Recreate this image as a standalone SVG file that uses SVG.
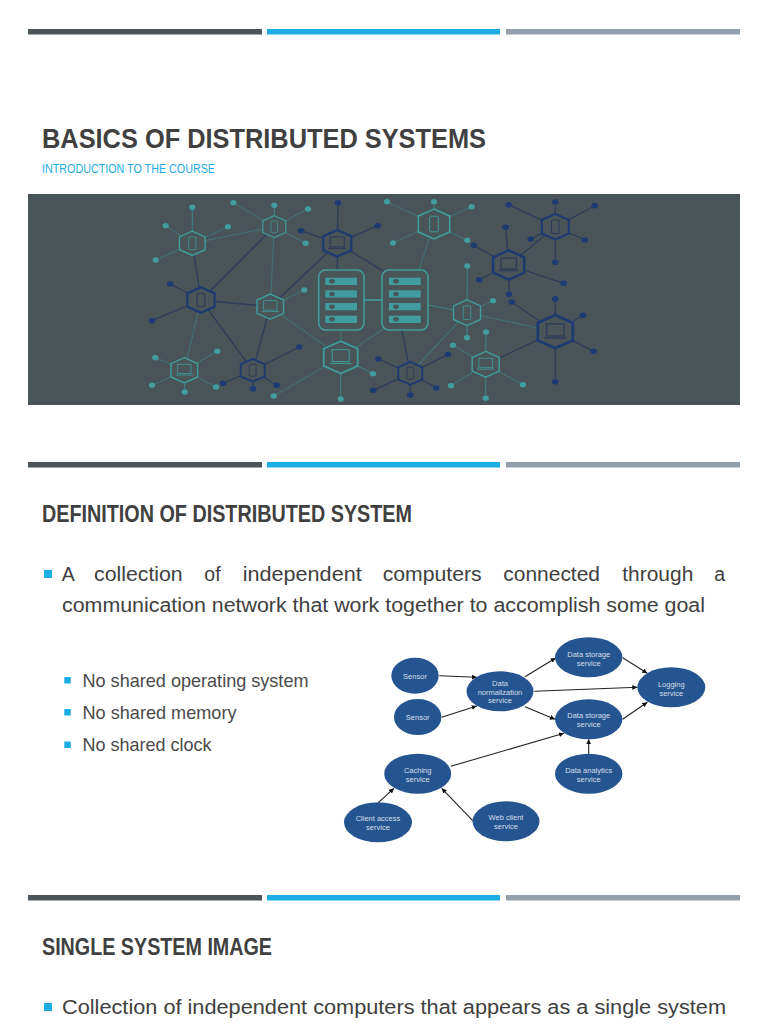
<svg xmlns="http://www.w3.org/2000/svg" width="768" height="1024" viewBox="0 0 768 1024">
<style>
text{font-family:"Liberation Sans",sans-serif}
.dk{fill:#4a5459}.bl{fill:#1cade4}.gy{fill:#94a0ab}
.h1{font-weight:700;fill:#404040}
.body{font-size:19.5px;fill:#404040}
.sub{font-size:17.8px;fill:#4a4a4a}
.bu{fill:#1cade4}
.n{stroke:#2b3c5b;stroke-width:1.3;fill:none}
.t{stroke:#3c8387;stroke-width:1.2;stroke-dasharray:1.3 1;fill:none}
.ts{stroke:#3c8387;stroke-width:1;fill:none}
.ln{fill:#1f3a70;rx:3.3px;ry:2.8px}
.lt{fill:#409c9e;rx:3.1px;ry:2.7px}
.hn{fill:#495459;stroke:#1f3a70;stroke-width:1.6}
.ht{fill:#495459;stroke:#409c9e;stroke-width:1.05}
.in{fill:none;stroke:#2b3c5b;stroke-width:.8}
.it{fill:none;stroke:#409c9e;stroke-width:.6}
.srv{fill:#495459;stroke:#409c9e;stroke-width:1.6}
.bar{fill:#409c9e}.dot{fill:#495459}
.e{fill:#255591}
.el{font-size:7.5px;fill:#d5deea;text-anchor:middle}
.a{stroke:#222;stroke-width:1.1;fill:none;marker-end:url(#ah)}
</style>
<defs>
<filter id="soft" filterUnits="userSpaceOnUse" x="28" y="194" width="712" height="211"><feGaussianBlur stdDeviation="0.45"/></filter>
<marker id="ah" markerWidth="6" markerHeight="6" refX="5" refY="2.5" orient="auto" markerUnits="userSpaceOnUse"><path d="M0 0L5 2.5L0 5z" fill="#111"/></marker>
<polygon id="hex" points="0,-9.5 10,-5 10,5 0,9.5 -10,5 -10,-5"/>
<g id="phone"><rect x="-2.8" y="-5" width="5.6" height="10" rx=".8"/></g>
<g id="laptop"><rect x="-5" y="-4.5" width="10" height="7"/><path d="M-6.5 3.6H6.5"/></g>
</defs>
<rect width="768" height="1024" fill="#fff"/>

<g id="rule-1"><rect class="dk" x="28" y="29" width="234" height="5.5"/><rect class="bl" x="267" y="29" width="233" height="5.5"/><rect class="gy" x="506" y="29" width="234" height="5.5"/></g>
<g id="rule-2"><rect class="dk" x="28" y="462" width="234" height="5.5"/><rect class="bl" x="267" y="462" width="233" height="5.5"/><rect class="gy" x="506" y="462" width="234" height="5.5"/></g>
<g id="rule-3"><rect class="dk" x="28" y="895" width="234" height="5.5"/><rect class="bl" x="267" y="895" width="233" height="5.5"/><rect class="gy" x="506" y="895" width="234" height="5.5"/></g>

<text class="h1" x="42" y="148" font-size="28" textLength="444" lengthAdjust="spacingAndGlyphs">BASICS OF DISTRIBUTED SYSTEMS</text>
<text x="42" y="173" font-size="12.5" fill="#1cade4" textLength="173" lengthAdjust="spacingAndGlyphs">INTRODUCTION TO THE COURSE</text>

<rect id="banner" x="28" y="194" width="712" height="211" fill="#495459"/>
<g id="banner-art" filter="url(#soft)">
<g id="banner-connectors">
<line class="n" x1="192.3" y1="243.3" x2="201" y2="300"/><line class="t" x1="192.3" y1="243.3" x2="274.3" y2="226.7"/><line class="n" x1="201" y1="300" x2="274.3" y2="226.7"/><line class="t" x1="274.3" y1="226.7" x2="270.3" y2="306.7"/><line class="n" x1="337.3" y1="243.3" x2="270.3" y2="306.7"/><line class="n" x1="201" y1="300" x2="270.3" y2="306.7"/><line class="n" x1="201" y1="300" x2="252.7" y2="370.3"/><line class="n" x1="270.3" y1="306.7" x2="252.7" y2="370.3"/><line class="t" x1="201" y1="300" x2="184.3" y2="370.3"/><line class="t" x1="270.3" y1="306.7" x2="340.7" y2="357.3"/><line class="n" x1="337.3" y1="243.3" x2="337.3" y2="272"/><line class="n" x1="337.3" y1="243.3" x2="385" y2="272"/><line class="t" x1="340.7" y1="357.3" x2="341" y2="330"/><line class="t" x1="340.7" y1="357.3" x2="385" y2="328"/><line class="t" x1="434" y1="224" x2="419" y2="270"/><line class="ts" x1="428" y1="305" x2="467" y2="312.7"/><line class="ts" x1="467" y1="312.7" x2="410.3" y2="373.3"/><line class="n" x1="402" y1="330" x2="410.3" y2="373.3"/><line class="t" x1="467" y1="312.7" x2="555.3" y2="331.7"/><line class="n" x1="485.7" y1="364.3" x2="555.3" y2="331.7"/><line class="n" x1="508.7" y1="265" x2="555.3" y2="226.7"/><line class="t" x1="434" y1="224" x2="467.3" y2="240.3"/>
<line class="ts" x1="192.3" y1="243.3" x2="192.3" y2="207.3"/><line class="t" x1="192.3" y1="243.3" x2="165.7" y2="225.7"/><line class="t" x1="192.3" y1="243.3" x2="228" y2="226.7"/><line class="t" x1="192.3" y1="243.3" x2="155.7" y2="260"/>
<line class="t" x1="274.3" y1="226.7" x2="233.3" y2="202.7"/><line class="ts" x1="274.3" y1="226.7" x2="274.3" y2="205.3"/><line class="t" x1="274.3" y1="226.7" x2="308" y2="209"/><line class="t" x1="274.3" y1="226.7" x2="305.7" y2="243.3"/>
<line class="t" x1="270.3" y1="306.7" x2="304.3" y2="290"/>
<line class="t" x1="184.3" y1="370.3" x2="155.3" y2="357.7"/><line class="t" x1="184.3" y1="370.3" x2="217.3" y2="351.3"/><line class="t" x1="184.3" y1="370.3" x2="152" y2="385.3"/><line class="ts" x1="184.3" y1="370.3" x2="184.7" y2="392"/><line class="t" x1="184.3" y1="370.3" x2="216" y2="387"/>
<line class="t" x1="340.7" y1="357.3" x2="273.7" y2="396"/><line class="ts" x1="340.7" y1="357.3" x2="340.7" y2="399"/><line class="ts" x1="340.7" y1="357.3" x2="373" y2="373.7"/>
<line class="n" x1="337.3" y1="243.3" x2="338" y2="202.7"/><line class="n" x1="337.3" y1="243.3" x2="301" y2="230.7"/><line class="n" x1="337.3" y1="243.3" x2="377.7" y2="225.7"/>
<line class="n" x1="201" y1="300" x2="170.3" y2="284"/><line class="n" x1="201" y1="300" x2="152" y2="320.7"/>
<line class="n" x1="252.7" y1="370.3" x2="299.3" y2="347"/><line class="n" x1="252.7" y1="370.3" x2="223" y2="383.3"/><line class="n" x1="252.7" y1="370.3" x2="253" y2="388.7"/><line class="n" x1="252.7" y1="370.3" x2="276.7" y2="385.3"/>
<line class="n" x1="410.3" y1="373.3" x2="378.3" y2="359"/><line class="n" x1="410.3" y1="373.3" x2="448" y2="354.3"/><line class="n" x1="410.3" y1="373.3" x2="373.3" y2="390.3"/><line class="n" x1="410.3" y1="373.3" x2="436.3" y2="388"/><line class="n" x1="410.3" y1="373.3" x2="410.3" y2="395"/>
<line class="t" x1="434" y1="224" x2="387" y2="201.7"/><line class="ts" x1="434" y1="224" x2="434" y2="201.7"/><line class="t" x1="434" y1="224" x2="471.7" y2="206.7"/><line class="t" x1="434" y1="224" x2="393" y2="243"/>
<line class="ts" x1="467" y1="312.7" x2="467.3" y2="266"/><line class="t" x1="467" y1="312.7" x2="493" y2="300.7"/><line class="ts" x1="467" y1="312.7" x2="467" y2="337.7"/>
<line class="ts" x1="485.7" y1="364.3" x2="486" y2="332"/><line class="t" x1="485.7" y1="364.3" x2="453" y2="345.3"/><line class="t" x1="485.7" y1="364.3" x2="451" y2="385.7"/><line class="t" x1="485.7" y1="364.3" x2="523" y2="384.7"/><line class="ts" x1="485.7" y1="364.3" x2="485.7" y2="398.3"/>
<line class="n" x1="555.3" y1="226.7" x2="508.7" y2="204.7"/><line class="n" x1="555.3" y1="226.7" x2="555.3" y2="202"/><line class="n" x1="555.3" y1="226.7" x2="594.7" y2="205.7"/><line class="n" x1="555.3" y1="226.7" x2="530.7" y2="239"/><line class="n" x1="555.3" y1="226.7" x2="584.7" y2="240"/><line class="n" x1="555.3" y1="226.7" x2="555.3" y2="262.3"/>
<line class="n" x1="508.7" y1="265" x2="473.7" y2="245.3"/><line class="n" x1="508.7" y1="265" x2="505.7" y2="227.3"/><line class="n" x1="508.7" y1="265" x2="479.3" y2="279.7"/><line class="n" x1="508.7" y1="265" x2="563.7" y2="283.3"/><line class="n" x1="508.7" y1="265" x2="509" y2="294.3"/>
<line class="n" x1="555.3" y1="331.7" x2="511.7" y2="302"/><line class="n" x1="555.3" y1="331.7" x2="555.3" y2="298.7"/><line class="n" x1="555.3" y1="331.7" x2="583" y2="315.3"/><line class="n" x1="555.3" y1="331.7" x2="593.7" y2="351.3"/><line class="n" x1="555.3" y1="331.7" x2="555.3" y2="381.7"/>
</g>
<g id="banner-leaves">
<ellipse class="lt" cx="192.3" cy="207.3"/><ellipse class="lt" cx="165.7" cy="225.7"/><ellipse class="lt" cx="228" cy="226.7"/><ellipse class="lt" cx="155.7" cy="260"/><ellipse class="lt" cx="233.3" cy="202.7"/><ellipse class="lt" cx="274.3" cy="205.3"/><ellipse class="lt" cx="308" cy="209"/><ellipse class="lt" cx="305.7" cy="243.3"/><ellipse class="lt" cx="304.3" cy="290"/><ellipse class="lt" cx="155.3" cy="357.7"/><ellipse class="lt" cx="217.3" cy="351.3"/><ellipse class="lt" cx="152" cy="385.3"/><ellipse class="lt" cx="184.7" cy="392"/><ellipse class="lt" cx="216" cy="387"/><ellipse class="lt" cx="273.7" cy="396"/><ellipse class="lt" cx="340.7" cy="399"/><ellipse class="lt" cx="373" cy="373.7"/><ellipse class="lt" cx="387" cy="201.7"/><ellipse class="lt" cx="434" cy="201.7"/><ellipse class="lt" cx="471.7" cy="206.7"/><ellipse class="lt" cx="393" cy="243"/><ellipse class="lt" cx="467.3" cy="240.3"/><ellipse class="lt" cx="467.3" cy="266"/><ellipse class="lt" cx="493" cy="300.7"/><ellipse class="lt" cx="467" cy="337.7"/><ellipse class="lt" cx="486" cy="332"/><ellipse class="lt" cx="453" cy="345.3"/><ellipse class="lt" cx="451" cy="385.7"/><ellipse class="lt" cx="523" cy="384.7"/><ellipse class="lt" cx="485.7" cy="398.3"/>
<ellipse class="ln" cx="338" cy="202.7"/><ellipse class="ln" cx="301" cy="230.7"/><ellipse class="ln" cx="377.7" cy="225.7"/><ellipse class="ln" cx="170.3" cy="284"/><ellipse class="ln" cx="152" cy="320.7"/><ellipse class="ln" cx="299.3" cy="347"/><ellipse class="ln" cx="223" cy="383.3"/><ellipse class="ln" cx="253" cy="388.7"/><ellipse class="ln" cx="276.7" cy="385.3"/><ellipse class="ln" cx="378.3" cy="359"/><ellipse class="ln" cx="448" cy="354.3"/><ellipse class="ln" cx="373.3" cy="390.3"/><ellipse class="ln" cx="436.3" cy="388"/><ellipse class="ln" cx="410.3" cy="395"/><ellipse class="ln" cx="508.7" cy="204.7"/><ellipse class="ln" cx="555.3" cy="202"/><ellipse class="ln" cx="594.7" cy="205.7"/><ellipse class="ln" cx="530.7" cy="239"/><ellipse class="ln" cx="584.7" cy="240"/><ellipse class="ln" cx="555.3" cy="262.3"/><ellipse class="ln" cx="473.7" cy="245.3"/><ellipse class="ln" cx="505.7" cy="227.3"/><ellipse class="ln" cx="479.3" cy="279.7"/><ellipse class="ln" cx="563.7" cy="283.3"/><ellipse class="ln" cx="509" cy="294.3"/><ellipse class="ln" cx="511.7" cy="302"/><ellipse class="ln" cx="555.3" cy="298.7"/><ellipse class="ln" cx="583" cy="315.3"/><ellipse class="ln" cx="593.7" cy="351.3"/><ellipse class="ln" cx="555.3" cy="381.7"/>
</g>
<g id="hub-t1" transform="translate(192.3 243.3) scale(1.28)"><use href="#hex" class="ht"/><use href="#phone" class="it"/></g>
<g id="hub-t2" transform="translate(274.3 226.7) scale(1.15)"><use href="#hex" class="ht"/><use href="#phone" class="it"/></g>
<g id="hub-t3" transform="translate(270.3 306.7) scale(1.33)"><use href="#hex" class="ht"/><use href="#laptop" class="it"/></g>
<g id="hub-t4" transform="translate(184.3 370.3) scale(1.33)"><use href="#hex" class="ht"/><use href="#laptop" class="it"/></g>
<g id="hub-t5" transform="translate(340.7 357.3) scale(1.7)"><use href="#hex" class="ht"/><use href="#laptop" class="it"/></g>
<g id="hub-t6" transform="translate(434 224) scale(1.57)"><use href="#hex" class="ht"/><use href="#phone" class="it"/></g>
<g id="hub-t7" transform="translate(467 312.7) scale(1.35)"><use href="#hex" class="ht"/><use href="#phone" class="it"/></g>
<g id="hub-t8" transform="translate(485.7 364.3) scale(1.35)"><use href="#hex" class="ht"/><use href="#laptop" class="it"/></g>
<g id="hub-n1" transform="translate(337.3 243.3) scale(1.4)"><use href="#hex" class="hn"/><use href="#laptop" class="in"/></g>
<g id="hub-n2" transform="translate(201 300) scale(1.35)"><use href="#hex" class="hn"/><use href="#phone" class="in"/></g>
<g id="hub-n3" transform="translate(252.7 370.3) scale(1.2)"><use href="#hex" class="hn"/><use href="#phone" class="in"/></g>
<g id="hub-n4" transform="translate(555.3 226.7) scale(1.35)"><use href="#hex" class="hn"/><use href="#phone" class="in"/></g>
<g id="hub-n5" transform="translate(508.7 265) scale(1.55)"><use href="#hex" class="hn"/><use href="#laptop" class="in"/></g>
<g id="hub-n6" transform="translate(555.3 331.7) scale(1.75)"><use href="#hex" class="hn"/><use href="#laptop" class="in"/></g>
<g id="hub-n7" transform="translate(410.3 373.3) scale(1.2)"><use href="#hex" class="hn"/><use href="#phone" class="in"/></g>
<g id="server-link"><line x1="364" y1="300" x2="382" y2="300" stroke="#409c9e" stroke-width="1.6"/></g>
<g id="server-left"><rect class="srv" x="318.7" y="270" width="45.3" height="60" rx="7"/>
<rect class="bar" x="325.3" y="277.7" width="31.7" height="7.3"/><rect class="bar" x="325.3" y="290.3" width="31.7" height="7.3"/><rect class="bar" x="325.3" y="303" width="31.7" height="7.3"/><rect class="bar" x="325.3" y="315.7" width="31.7" height="7.3"/>
<ellipse class="dot" cx="332" cy="281.3" rx="2.8" ry="2.2"/><ellipse class="dot" cx="332" cy="294" rx="2.8" ry="2.2"/><ellipse class="dot" cx="332" cy="306.7" rx="2.8" ry="2.2"/><ellipse class="dot" cx="332" cy="319.3" rx="2.8" ry="2.2"/></g>
<g id="server-right"><rect class="srv" x="382" y="270" width="46" height="60" rx="7"/>
<rect class="bar" x="389" y="277.7" width="31.7" height="7.3"/><rect class="bar" x="389" y="290.3" width="31.7" height="7.3"/><rect class="bar" x="389" y="303" width="31.7" height="7.3"/><rect class="bar" x="389" y="315.7" width="31.7" height="7.3"/>
<ellipse class="dot" cx="396" cy="281.3" rx="2.8" ry="2.2"/><ellipse class="dot" cx="396" cy="294" rx="2.8" ry="2.2"/><ellipse class="dot" cx="396" cy="306.7" rx="2.8" ry="2.2"/><ellipse class="dot" cx="396" cy="319.3" rx="2.8" ry="2.2"/></g>
</g>

<text class="h1" x="42" y="522" font-size="23" textLength="370" lengthAdjust="spacingAndGlyphs">DEFINITION OF DISTRIBUTED SYSTEM</text>
<rect class="bu" x="44" y="570" width="8" height="8"/>
<text class="body" y="581"><tspan x="61.7">A</tspan> <tspan x="94" textLength="88.7" lengthAdjust="spacingAndGlyphs">collection</tspan> <tspan x="204.3">of</tspan> <tspan x="242.7" textLength="119" lengthAdjust="spacingAndGlyphs">independent</tspan> <tspan x="382.7" textLength="99" lengthAdjust="spacingAndGlyphs">computers</tspan> <tspan x="503.3" textLength="96.7" lengthAdjust="spacingAndGlyphs">connected</tspan> <tspan x="622.3" textLength="71" lengthAdjust="spacingAndGlyphs">through</tspan> <tspan x="714.3">a</tspan></text>
<text class="body" x="62" y="612" textLength="643" lengthAdjust="spacingAndGlyphs">communication network that work together to accomplish some goal</text>
<rect class="bu" x="64.3" y="677" width="6.5" height="6.5"/>
<text class="sub" x="82.5" y="687" textLength="226" lengthAdjust="spacingAndGlyphs">No shared operating system</text>
<rect class="bu" x="64.3" y="709" width="6.5" height="6.5"/>
<text class="sub" x="82.5" y="719" textLength="154" lengthAdjust="spacingAndGlyphs">No shared memory</text>
<rect class="bu" x="64.3" y="741.5" width="6.5" height="6.5"/>
<text class="sub" x="82.5" y="751" textLength="129" lengthAdjust="spacingAndGlyphs">No shared clock</text>

<g id="connectors">
<line class="a" x1="439.3" y1="675.7" x2="476.7" y2="677.3"/>
<line class="a" x1="441.7" y1="717.3" x2="476.7" y2="706"/>
<line class="a" x1="525" y1="676.7" x2="555.7" y2="658"/>
<line class="a" x1="534.3" y1="691.3" x2="637.3" y2="687.3"/>
<line class="a" x1="525" y1="706.7" x2="555" y2="719.3"/>
<line class="a" x1="622.7" y1="657.7" x2="647.3" y2="673.3"/>
<line class="a" x1="622.7" y1="719.3" x2="647.3" y2="702.3"/>
<line class="a" x1="450.7" y1="766.3" x2="564" y2="733.3"/>
<line class="a" x1="588.7" y1="754" x2="588.7" y2="739.3"/>
<line class="a" x1="378.3" y1="802.7" x2="394" y2="788.3"/>
<line class="a" x1="472.7" y1="820.7" x2="441.7" y2="788.3"/>
</g>
<g id="sensor-1"><ellipse class="e" cx="415" cy="675.7" rx="23.7" ry="18"/><text class="el" x="415" y="678.5">Sensor</text></g>
<g id="sensor-2"><ellipse class="e" cx="417.7" cy="717" rx="23.7" ry="18"/><text class="el" x="417.7" y="719.8">Sensor</text></g>
<g id="data-normalization"><ellipse class="e" cx="500" cy="691.3" rx="33.5" ry="20"/><text class="el" x="500" y="686">Data</text><text class="el" x="500" y="694.7">normalization</text><text class="el" x="500" y="703">service</text></g>
<g id="storage-1"><ellipse class="e" cx="588.7" cy="657.3" rx="33.7" ry="20"/><text class="el" x="588.7" y="656.5">Data storage</text><text class="el" x="588.7" y="665.5">service</text></g>
<g id="storage-2"><ellipse class="e" cx="588.7" cy="719.3" rx="33.7" ry="20"/><text class="el" x="588.7" y="718">Data storage</text><text class="el" x="588.7" y="726.7">service</text></g>
<g id="logging"><ellipse class="e" cx="671.3" cy="687.3" rx="34" ry="20"/><text class="el" x="671.3" y="686.5">Logging</text><text class="el" x="671.3" y="695.5">service</text></g>
<g id="caching"><ellipse class="e" cx="417.7" cy="773.7" rx="33.5" ry="20"/><text class="el" x="417.7" y="772.5">Caching</text><text class="el" x="417.7" y="781.5">service</text></g>
<g id="analytics"><ellipse class="e" cx="588.7" cy="773.7" rx="33.7" ry="20"/><text class="el" x="588.7" y="772.5">Data analytics</text><text class="el" x="588.7" y="781.5">service</text></g>
<g id="client-access"><ellipse class="e" cx="378" cy="822.3" rx="34" ry="20"/><text class="el" x="378" y="821">Client access</text><text class="el" x="378" y="830">service</text></g>
<g id="web-client"><ellipse class="e" cx="506" cy="821.3" rx="33.5" ry="20"/><text class="el" x="506" y="819.5">Web client</text><text class="el" x="506" y="829">service</text></g>

<text class="h1" x="42" y="955" font-size="23" textLength="230" lengthAdjust="spacingAndGlyphs">SINGLE SYSTEM IMAGE</text>
<rect class="bu" x="44" y="1003" width="8" height="8"/>
<text class="body" x="62" y="1014" textLength="664" lengthAdjust="spacingAndGlyphs">Collection of independent computers that appears as a single system</text>
</svg>
